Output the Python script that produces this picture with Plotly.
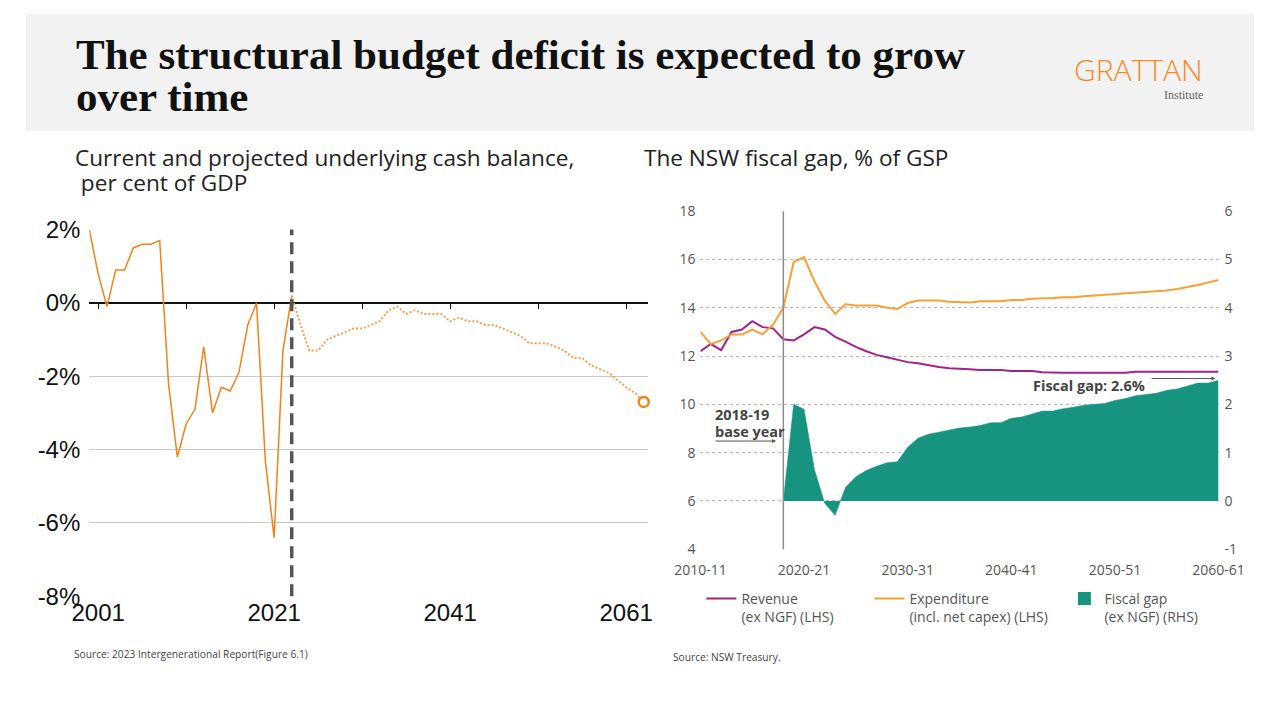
import plotly.graph_objects as go

W, H = 1280, 720

# ---------------- Left chart data: underlying cash balance, % of GDP ----------------
hist_years = list(range(2000, 2024))
hist_values = [2.0, 0.8, -0.1, 0.9, 0.9, 1.5, 1.6, 1.6, 1.7, -2.2, -4.2, -3.3, -2.9, -1.2,
               -3.0, -2.3, -2.4, -1.9, -0.6, 0.0, -4.3, -6.4, -1.3, 0.2]
proj_years = list(range(2023, 2064))
proj_values = [0.2, -0.6, -1.3, -1.3, -1.0, -0.9, -0.8, -0.7, -0.7, -0.6, -0.5, -0.2, -0.1,
               -0.3, -0.2, -0.3, -0.3, -0.3, -0.5, -0.4, -0.5, -0.5, -0.6, -0.6, -0.7, -0.8,
               -0.9, -1.1, -1.1, -1.1, -1.2, -1.3, -1.5, -1.5, -1.7, -1.8, -1.9, -2.1, -2.3,
               -2.45, -2.7]
left_xtick_vals = [2001, 2021, 2041, 2061]
left_minor_ticks = [2001, 2011, 2021, 2031, 2041, 2051, 2061]
left_ytick_vals = [2, 0, -2, -4, -6, -8]
left_ytick_text = ["2%", "0%", "-2%", "-4%", "-6%", "-8%"]
proj_start_year = 2023

# ---------------- Right chart data: NSW fiscal gap ----------------
fy_years = list(range(2010, 2061))  # 2010-11 ... 2060-61
revenue = [12.2, 12.5, 12.25, 13.0, 13.1, 13.45, 13.2, 13.15, 12.7, 12.65,
           12.9, 13.2, 13.1, 12.8, 12.6, 12.38, 12.2, 12.05, 11.95, 11.85,
           11.75, 11.7, 11.62, 11.55, 11.5, 11.46, 11.45, 11.42, 11.42, 11.42,
           11.38, 11.38, 11.38, 11.33, 11.31, 11.31, 11.31, 11.31, 11.31, 11.31,
           11.31, 11.31, 11.35, 11.35, 11.35, 11.35, 11.35, 11.35, 11.35, 11.35, 11.35]
expenditure = [13.0, 12.5, 12.65, 12.9, 12.9, 13.1, 12.9, 13.3, 14.0, 15.9,
               16.1, 15.1, 14.3, 13.75, 14.15, 14.1, 14.1, 14.1, 14.0, 13.95,
               14.2, 14.3, 14.3, 14.3, 14.25, 14.25, 14.22, 14.27, 14.27, 14.27,
               14.32, 14.32, 14.38, 14.38, 14.41, 14.44, 14.44, 14.48, 14.51, 14.51,
               14.55, 14.58, 14.63, 14.66, 14.66, 14.72, 14.78, 14.85, 14.95, 15.05, 15.15]
gap_years = list(range(2018, 2061))
fiscal_gap = [0.0, 2.0, 1.9, 0.65, -0.05, -0.3, 0.28, 0.5, 0.63, 0.72,
              0.79, 0.81, 1.11, 1.30, 1.38, 1.42, 1.46, 1.51, 1.53, 1.56,
              1.62, 1.62, 1.71, 1.74, 1.80, 1.86, 1.86, 1.91, 1.94, 1.98,
              2.00, 2.02, 2.08, 2.12, 2.18, 2.20, 2.23, 2.29, 2.32, 2.38,
              2.44, 2.44, 2.50]
right_xtick_vals = [2010, 2020, 2030, 2040, 2050, 2060]
right_xtick_text = ["2010-11", "2020-21", "2030-31", "2040-41", "2050-51", "2060-61"]
lhs_ticks = [4, 6, 8, 10, 12, 14, 16, 18]
rhs_ticks = [-1, 0, 1, 2, 3, 4, 5, 6]
rhs_text = ["-1", "0", "1", "2", "3", "4", "5", "6"]
base_year = 2018

# ---------------- styling ----------------
ORANGE = "#F0821A"
ORANGE_LIGHT = "#F5A04E"
PURPLE = "#A2228A"
EXP_ORANGE = "#F8A035"
TEAL = "#179480"
GREY_TXT = "#555555"
SANS_AX = "Liberation Sans, Arial, sans-serif"
SANS_UI = "Open Sans, sans-serif"
SERIF = "Liberation Serif, serif"


def py(p):
    return 1 - p / H


def pxx(p):
    return p / W


# plot areas (pixels)
L_X0, L_X1, L_Y0, L_Y1 = 66, 648, 224, 605
R_X0, R_X1, R_Y0, R_Y1 = 703, 1243, 205, 556

fig = go.Figure()

# Left chart traces
fig.add_trace(go.Scatter(x=hist_years, y=hist_values, mode="lines",
                         line=dict(color=ORANGE, width=1.5), xaxis="x", yaxis="y",
                         showlegend=False, hoverinfo="skip"))
fig.add_trace(go.Scatter(x=proj_years, y=proj_values, mode="lines",
                         line=dict(color=ORANGE_LIGHT, width=2, dash="2px,2px"),
                         xaxis="x", yaxis="y", showlegend=False, hoverinfo="skip"))
fig.add_trace(go.Scatter(x=[proj_years[-1]], y=[proj_values[-1]], mode="markers",
                         marker=dict(symbol="circle", size=10, color="white",
                                     line=dict(color=ORANGE, width=2.5)),
                         xaxis="x3", yaxis="y", cliponaxis=False, showlegend=False,
                         hoverinfo="skip"))

# Right chart traces
fig.add_trace(go.Scatter(x=gap_years, y=fiscal_gap, mode="lines", fill="tozeroy",
                         fillcolor=TEAL, line=dict(color=TEAL, width=0.5),
                         xaxis="x2", yaxis="y4", showlegend=False, hoverinfo="skip"))
fig.add_trace(go.Scatter(x=fy_years, y=revenue, mode="lines",
                         name="Revenue<br>(ex NGF) (LHS)",
                         line=dict(color=PURPLE, width=2), xaxis="x2", yaxis="y3",
                         legendwidth=123, hoverinfo="skip"))
fig.add_trace(go.Scatter(x=fy_years, y=expenditure, mode="lines",
                         name="Expenditure<br>(incl. net capex) (LHS)",
                         line=dict(color=EXP_ORANGE, width=2), xaxis="x2", yaxis="y3",
                         legendwidth=150, hoverinfo="skip"))
fig.add_trace(go.Scatter(x=[None], y=[None], mode="markers",
                         name="Fiscal gap<br>(ex NGF) (RHS)",
                         marker=dict(symbol="square", size=13, color=TEAL),
                         xaxis="x2", yaxis="y4", hoverinfo="skip"))

zero_frac = (0 - (-8)) / (2 - (-8))
y_dom = [py(L_Y1), py(L_Y0)]
zero_pos = y_dom[0] + zero_frac * (y_dom[1] - y_dom[0])
left_range = [2000, 2063.45]

fig.update_layout(
    width=W, height=H,
    margin=dict(l=0, r=0, t=0, b=0),
    paper_bgcolor="white", plot_bgcolor="rgba(0,0,0,0)",
    xaxis=dict(domain=[pxx(L_X0), pxx(L_X1)], range=left_range, anchor="y",
               showgrid=False, zeroline=False, showline=False, ticks="",
               tickvals=left_xtick_vals, ticktext=[str(v) for v in left_xtick_vals],
               tickfont=dict(family=SANS_AX, size=24, color="#111")),
    xaxis3=dict(overlaying="x", range=left_range, anchor="free", position=zero_pos,
                side="bottom", showgrid=False, zeroline=False, showline=False,
                ticks="outside", ticklen=5, tickwidth=1.2, tickcolor="#111",
                tickvals=left_minor_ticks, showticklabels=False),
    yaxis=dict(domain=y_dom, range=[-8, 2], anchor="x",
               tickvals=left_ytick_vals, ticktext=left_ytick_text,
               showgrid=True, gridcolor="#c8c8c8", gridwidth=1,
               zeroline=True, zerolinecolor="#111", zerolinewidth=1.5,
               showline=False, ticks="", ticklabelstandoff=8,
               tickfont=dict(family=SANS_AX, size=24, color="#111")),
    xaxis2=dict(domain=[pxx(R_X0), pxx(R_X1)], range=[2010, 2060], anchor="y3",
                showgrid=False, zeroline=False, showline=False, ticks="",
                ticklabelstandoff=11,
                tickvals=right_xtick_vals, ticktext=right_xtick_text,
                tickfont=dict(family=SANS_UI, size=14, color=GREY_TXT)),
    yaxis3=dict(domain=[py(R_Y1), py(R_Y0)], range=[4, 18], anchor="x2",
                tickvals=lhs_ticks, showgrid=True, gridcolor="#b5b5b5", griddash="dot",
                gridwidth=1, zeroline=False, showline=False, ticks="",
                ticklabelstandoff=4,
                tickfont=dict(family=SANS_UI, size=14, color=GREY_TXT)),
    yaxis4=dict(overlaying="y3", side="right", anchor="x2", range=[-1, 6],
                tickvals=rhs_ticks, ticktext=rhs_text, showgrid=False, zeroline=False,
                showline=False, ticks="", ticklabelstandoff=5,
                tickfont=dict(family=SANS_UI, size=14, color=GREY_TXT)),
    legend=dict(orientation="h", x=pxx(704), xanchor="left", y=py(591), yanchor="top",
                font=dict(family=SANS_UI, size=14, color=GREY_TXT), valign="top",
                bgcolor="rgba(0,0,0,0)", itemwidth=30, traceorder="normal"),
    showlegend=True,
)

shapes = [
    dict(type="rect", xref="paper", yref="paper", x0=0, x1=1, y0=py(121), y1=1,
         fillcolor="#F2F2F2", line=dict(width=0), layer="below"),
    dict(type="line", xref="x", yref="y domain", x0=proj_start_year, x1=proj_start_year,
         y0=0, y1=1, line=dict(color="#555555", width=3.5, dash="12px,7px"), layer="above"),
    dict(type="line", xref="x2", yref="y3 domain", x0=base_year, x1=base_year,
         y0=0, y1=1, line=dict(color="#8c8c8c", width=1.5), layer="above"),
]
fig.update_layout(shapes=shapes)

ann = []
# Title
ann.append(dict(text="<b>The structural budget deficit is expected to grow</b>", x=pxx(50), y=py(42),
                xref="paper", yref="paper", xanchor="left", yanchor="middle", showarrow=False,
                font=dict(family=SERIF, size=43, color="#111")))
ann.append(dict(text="<b>over time</b>", x=pxx(50), y=py(86),
                xref="paper", yref="paper", xanchor="left", yanchor="middle", showarrow=False,
                font=dict(family=SERIF, size=43, color="#111")))
# Logo
ann.append(dict(text="GRATTAN", x=pxx(1229), y=py(58), xref="paper", yref="paper",
                xanchor="right", yanchor="middle", showarrow=False,
                font=dict(family=SANS_UI, size=30, color="#F68B1F", weight=300)))
ann.append(dict(text="Institute", x=pxx(1229), y=py(84), xref="paper", yref="paper",
                xanchor="right", yanchor="middle", showarrow=False,
                font=dict(family=SERIF, size=12, color="#666")))
# Subtitles
ann.append(dict(text="Current and projected underlying cash balance,", x=pxx(49), y=py(149),
                xref="paper", yref="paper", xanchor="left", yanchor="middle", showarrow=False,
                font=dict(family=SANS_UI, size=22.6, color="#222")))
ann.append(dict(text=" per cent of GDP", x=pxx(49), y=py(175),
                xref="paper", yref="paper", xanchor="left", yanchor="middle", showarrow=False,
                font=dict(family=SANS_UI, size=22.6, color="#222")))
ann.append(dict(text="The NSW fiscal gap, % of GSP", x=pxx(642), y=py(149),
                xref="paper", yref="paper", xanchor="left", yanchor="middle", showarrow=False,
                font=dict(family=SANS_UI, size=22.6, color="#222")))
# Sources
ann.append(dict(text="Source: 2023 Intergenerational Report(Figure 6.1)", x=pxx(48), y=py(665),
                xref="paper", yref="paper", xanchor="left", yanchor="middle", showarrow=False,
                font=dict(family=SANS_UI, size=10.2, color="#444")))
ann.append(dict(text="Source: NSW Treasury.", x=pxx(672), y=py(668),
                xref="paper", yref="paper", xanchor="left", yanchor="middle", showarrow=False,
                font=dict(family=SANS_UI, size=10.2, color="#444")))
# Right chart annotations
ann.append(dict(text="<b>2018-19</b>", x=pxx(716), y=py(416),
                xref="paper", yref="paper", xanchor="left", yanchor="middle", showarrow=False,
                font=dict(family=SANS_UI, size=14.5, color="#444")))
ann.append(dict(text="<b>base year</b>", x=pxx(716), y=py(434),
                xref="paper", yref="paper", xanchor="left", yanchor="middle", showarrow=False,
                font=dict(family=SANS_UI, size=14.5, color="#444")))
ann.append(dict(text="", x=2017.3, y=8.48, ax=2011.3, ay=8.48, xref="x2", yref="y3",
                axref="x2", ayref="y3", showarrow=True, arrowhead=2, arrowsize=0.8,
                arrowwidth=1, arrowcolor="#555"))
ann.append(dict(text="<b>Fiscal gap: 2.6%</b>", x=pxx(1168), y=py(386),
                xref="paper", yref="paper", xanchor="right", yanchor="middle", showarrow=False,
                font=dict(family=SANS_UI, size=14.5, color="#444")))
ann.append(dict(text="", x=2059.7, y=11.07, ax=2053.4, ay=11.07, xref="x2", yref="y3",
                axref="x2", ayref="y3", showarrow=True, arrowhead=2, arrowsize=0.8,
                arrowwidth=1, arrowcolor="#555"))
fig.update_layout(annotations=ann)

post = ("document.documentElement.style.margin='0';"
        "document.body.style.margin='0';"
        "document.body.style.overflow='hidden';")
fig.write_html("out.html", post_script=post)
